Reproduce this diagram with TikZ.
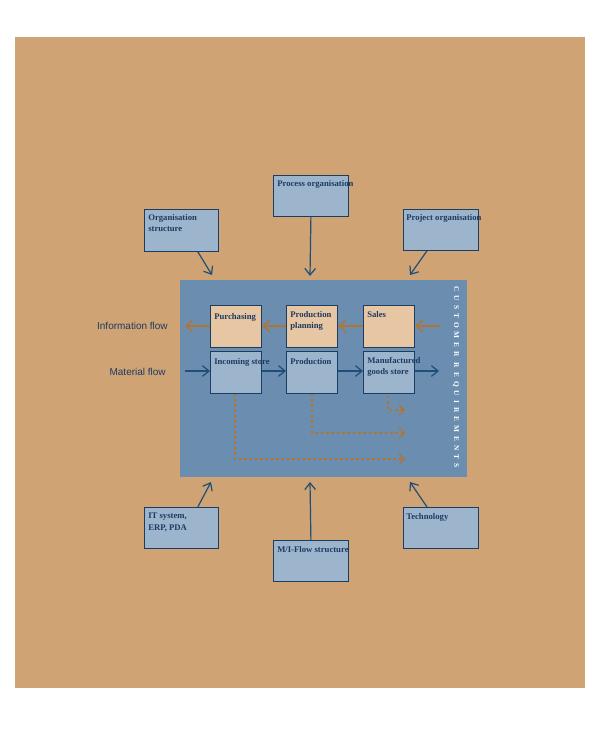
\documentclass[tikz,border=0pt]{standalone}
\usepackage{fontspec}
\setmainfont{Liberation Serif}
\setsansfont{Liberation Sans}
\usetikzlibrary{arrows.meta}
\definecolor{tan}{HTML}{CFA373}
\definecolor{panel}{HTML}{6A8DB0}
\definecolor{lbox}{HTML}{9DB4CD}
\definecolor{peach}{HTML}{E7C7A3}
\definecolor{dblue}{HTML}{1F4E79}
\definecolor{txt}{HTML}{1C3B62}
\definecolor{orng}{HTML}{B27430}
\begin{document}
\begin{tikzpicture}[x=0.75pt,y=-0.75pt,
  box/.style={draw=dblue!80!black,line width=0.6pt,minimum width=0pt},
  lbl/.style={anchor=north west,inner sep=0pt,font=\bfseries\fontsize{6.5}{7.5}\selectfont,text=txt,align=left},
  barr/.style={draw=dblue,line width=0.9pt,-{Straight Barb[length=5pt,width=8pt]}},
  oarr/.style={draw=orng,line width=1pt,-{Straight Barb[length=5pt,width=9pt]}},
  darr/.style={draw=orng,line width=0.8pt,dash pattern=on 2pt off 2pt,-{Straight Barb[length=4pt,width=8pt,line width=0.8pt]}},
  flow/.style={font=\sffamily\fontsize{7.5}{9}\selectfont,text=txt,inner sep=0pt}]
\useasboundingbox (0,0) rectangle (600,730);
\fill[white] (0,0) rectangle (600,730);
\fill[tan] (15,37) rectangle (585,688);
\fill[panel] (180,280) rectangle (467,477);
% nodes
\node[box,fill=lbox,minimum width=56.25pt,minimum height=30.75pt,anchor=north west] (proc) at (273,175) {};
\node[box,fill=lbox,minimum width=55.5pt,minimum height=31.5pt,anchor=north west] (ostr) at (144,209) {};
\node[box,fill=lbox,minimum width=56.25pt,minimum height=30.75pt,anchor=north west] (proj) at (403,209) {};
\node[box,fill=lbox,minimum width=55.5pt,minimum height=30.75pt,anchor=north west] (it) at (144,507) {};
\node[box,fill=lbox,minimum width=56.25pt,minimum height=30.75pt,anchor=north west] (mi) at (273,540) {};
\node[box,fill=lbox,minimum width=56.25pt,minimum height=30.75pt,anchor=north west] (tech) at (403,507) {};
\node[lbl] at (277,180) {Process organisation};
\node[lbl] at (148,214) {Organisation\\[1pt]structure};
\node[lbl] at (406,214) {Project organisation};
\node[lbl] at (148,513) {IT system,\\[1pt]ERP, PDA};
\node[lbl] at (277,546) {M/I-Flow structure};
\node[lbl] at (406,513) {Technology};
% inner boxes
\foreach \n/\x/\c in {pur/210/peach,pp/286/peach,sal/363/peach}
  \node[box,fill=\c,minimum width=38.5pt,minimum height=31.5pt,anchor=north west] (\n) at (\x,305) {};
\foreach \n/\x in {inc/210,prd/286,mfg/363}
  \node[box,fill=lbox,minimum width=38.5pt,minimum height=31.5pt,anchor=north west] (\n) at (\x,351) {};
\node[lbl] at (214,313) {Purchasing};
\node[lbl] at (290,311) {Production\\[1pt]planning};
\node[lbl] at (367,311) {Sales};
\node[lbl] at (214,358) {Incoming store};
\node[lbl] at (290,358) {Production};
\node[lbl] at (367,357) {Manufactured\\[1pt]goods store};
% outer arrows
\coordinate (a1) at (212,275); \coordinate (a2) at (310,276); \coordinate (a3) at (410,275);
\coordinate (b1) at (211,482); \coordinate (b2) at (310,482); \coordinate (b3) at (410,482);
\draw[barr] (ostr.south east) ++(-21,0) -- (a1);
\draw[barr] (proc.south) -- (a2);
\draw[barr] (proj.south west) ++(24,0) -- (a3);
\draw[barr] (it.north east) ++(-21,0) -- (b1);
\draw[barr] (mi.north) -- (b2);
\draw[barr] (tech.north west) ++(24,0) -- (b3);
% info flow
\coordinate (ci) at (440,326); \coordinate (co) at (185,326);
\draw[oarr] (ci) -- (sal.east|-ci);
\draw[oarr] (sal.west|-ci) -- (pp.east|-ci);
\draw[oarr] (pp.west|-ci) -- (pur.east|-ci);
\draw[oarr] (pur.west|-ci) -- (co);
% material flow
\coordinate (mi0) at (185,371); \coordinate (mo) at (439,371);
\draw[barr] (mi0) -- (inc.west|-mi0);
\draw[barr] (inc.east|-mi0) -- (prd.west|-mi0);
\draw[barr] (prd.east|-mi0) -- (mfg.west|-mi0);
\draw[barr] (mfg.east|-mi0) -- (mo);
% dashed
\coordinate (d1) at (405,459); \coordinate (d2) at (405,433); \coordinate (d3) at (405,410);
\draw[darr] (inc.south-|235,0) |- (d1);
\draw[darr] (prd.south-|312,0) |- (d2);
\draw[darr] (mfg.south-|388,0) ++(0,2) |- (d3);
\node[flow,anchor=east] (inf) at (168,326) {Information flow};
\node[flow,anchor=east] (mat) at (166,372) {Material flow};
\node[rotate=-90,text=white,font=\bfseries\fontsize{5.5}{6}\selectfont\addfontfeature{LetterSpace=55},inner sep=0pt] (cr) at (456,377) {CUSTOMER REQUIREMENTS};
\end{tikzpicture}
\end{document}
